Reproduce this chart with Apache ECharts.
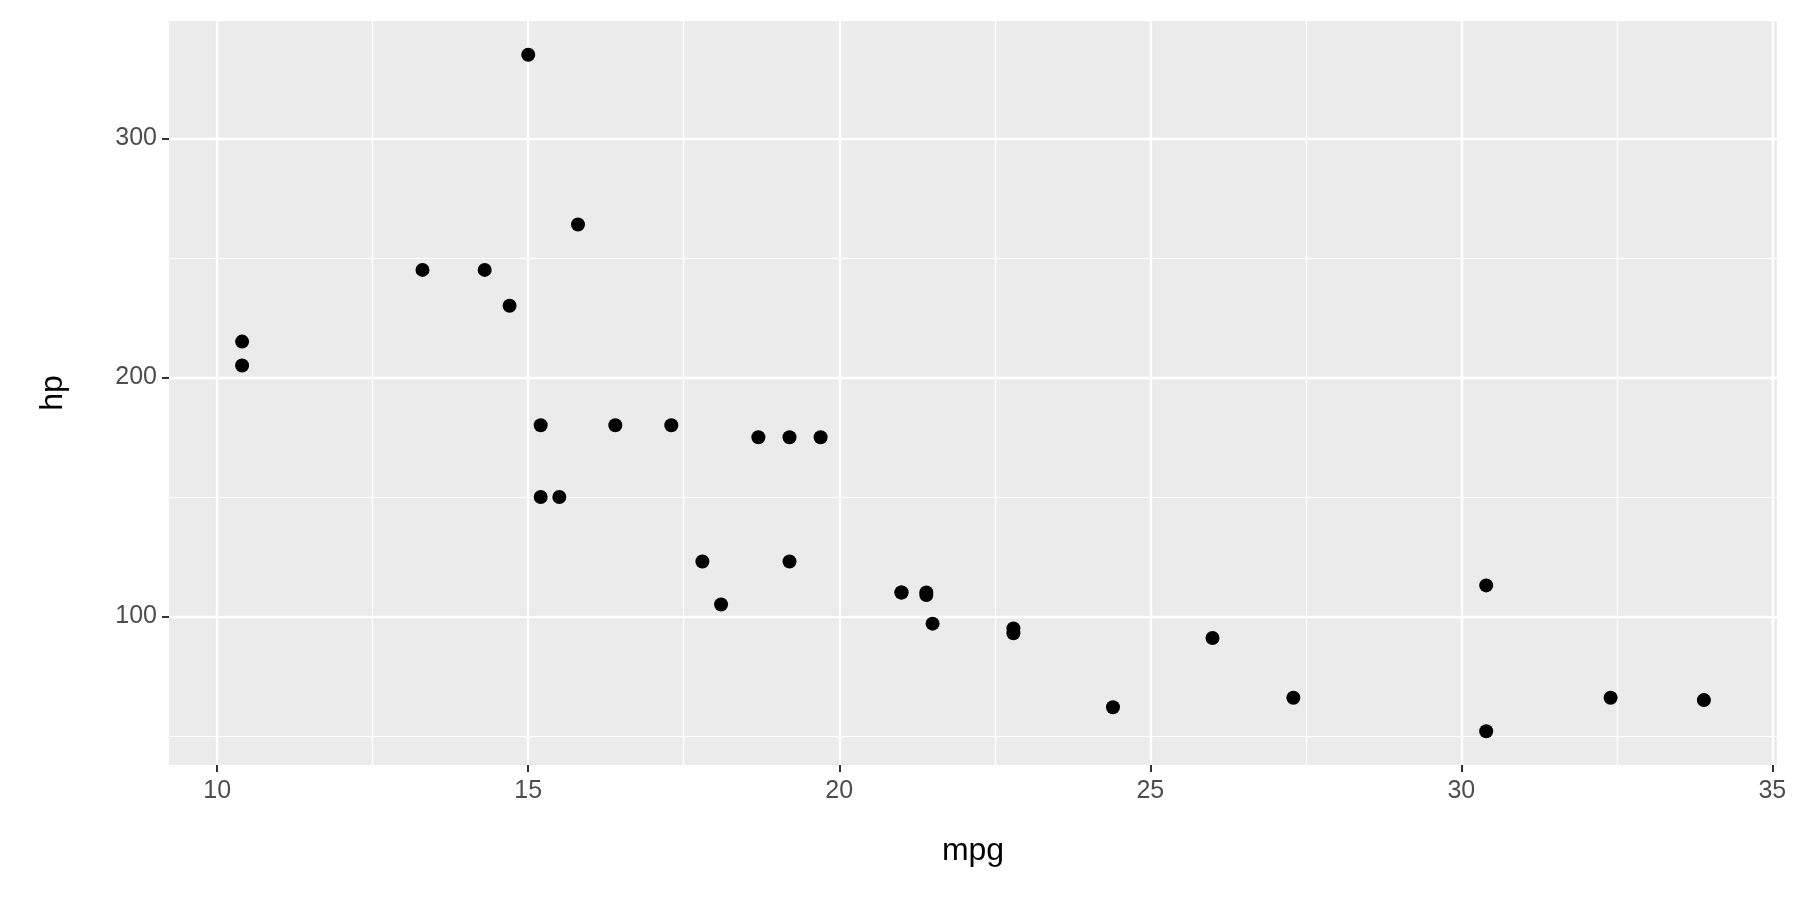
<!DOCTYPE html>
<html><head><meta charset="utf-8">
<script src="https://cdn.jsdelivr.net/npm/echarts@6/dist/echarts.min.js"></script>
<style>html,body{margin:0;padding:0;background:#fff}#c{width:1800px;height:900px}</style>
</head><body><div id="c"></div>
<script>
const mpg=[21.0,21.0,22.8,21.4,18.7,18.1,14.3,24.4,22.8,19.2,17.8,16.4,17.3,15.2,10.4,10.4,14.7,32.4,30.4,33.9,21.5,15.5,15.2,13.3,19.2,27.3,26.0,30.4,15.8,19.7,15.0,21.4];
const hp=[110,110,93,110,175,105,245,62,95,123,123,180,180,180,205,215,230,66,52,65,97,150,150,245,175,66,91,113,264,175,335,109];
const xTicks=[10,15,20,25,30,35];
const xMinor=[12.5,17.5,22.5,27.5,32.5];
const yTicks=[100,200,300];
const yMinor=[50,150,250];
const pts=mpg.map((v,i)=>[v,hp[i]]);
const ml=(arr,axis,w)=>arr.map(v=>({[axis]:v,lineStyle:{color:'#fff',width:w,type:'solid'}}));
const chart=echarts.init(document.getElementById('c'));
chart.setOption({
 animation:false,
 grid:{left:169,top:21,width:1608,height:744,backgroundColor:'#ebebeb',show:true,borderWidth:0},
 xAxis:{type:'value',min:9.225,max:35.075,name:'mpg',nameLocation:'middle',nameGap:70,
  nameTextStyle:{color:'#000',fontSize:32,fontFamily:'Liberation Sans, Arial'},
  axisLine:{show:false},splitLine:{show:false},
  axisTick:{show:true,length:7,lineStyle:{color:'#333',width:2},customValues:xTicks},
  axisLabel:{customValues:xTicks,color:'#4d4d4d',fontSize:25,margin:14,fontFamily:'Liberation Sans, Arial'}},
 yAxis:{type:'value',min:37.85,max:349.15,name:'hp',nameLocation:'middle',nameGap:100,
  nameTextStyle:{color:'#000',fontSize:32,fontFamily:'Liberation Sans, Arial'},
  axisLine:{show:false},splitLine:{show:false},
  axisTick:{show:true,length:7,lineStyle:{color:'#333',width:2},customValues:yTicks},
  axisLabel:{customValues:yTicks,color:'#4d4d4d',fontSize:25,margin:12,fontFamily:'Liberation Sans, Arial'}},
 series:[{type:'scatter',data:pts,symbolSize:14,itemStyle:{color:'#000',opacity:1},z:5,
  markLine:{silent:true,symbol:'none',label:{show:false},animation:false,z:1,
   data:[...ml(xMinor,'xAxis',1.2),...ml(yMinor,'yAxis',1.2),...ml(xTicks,'xAxis',2.4),...ml(yTicks,'yAxis',2.4)]}}]
});
</script></body></html>
